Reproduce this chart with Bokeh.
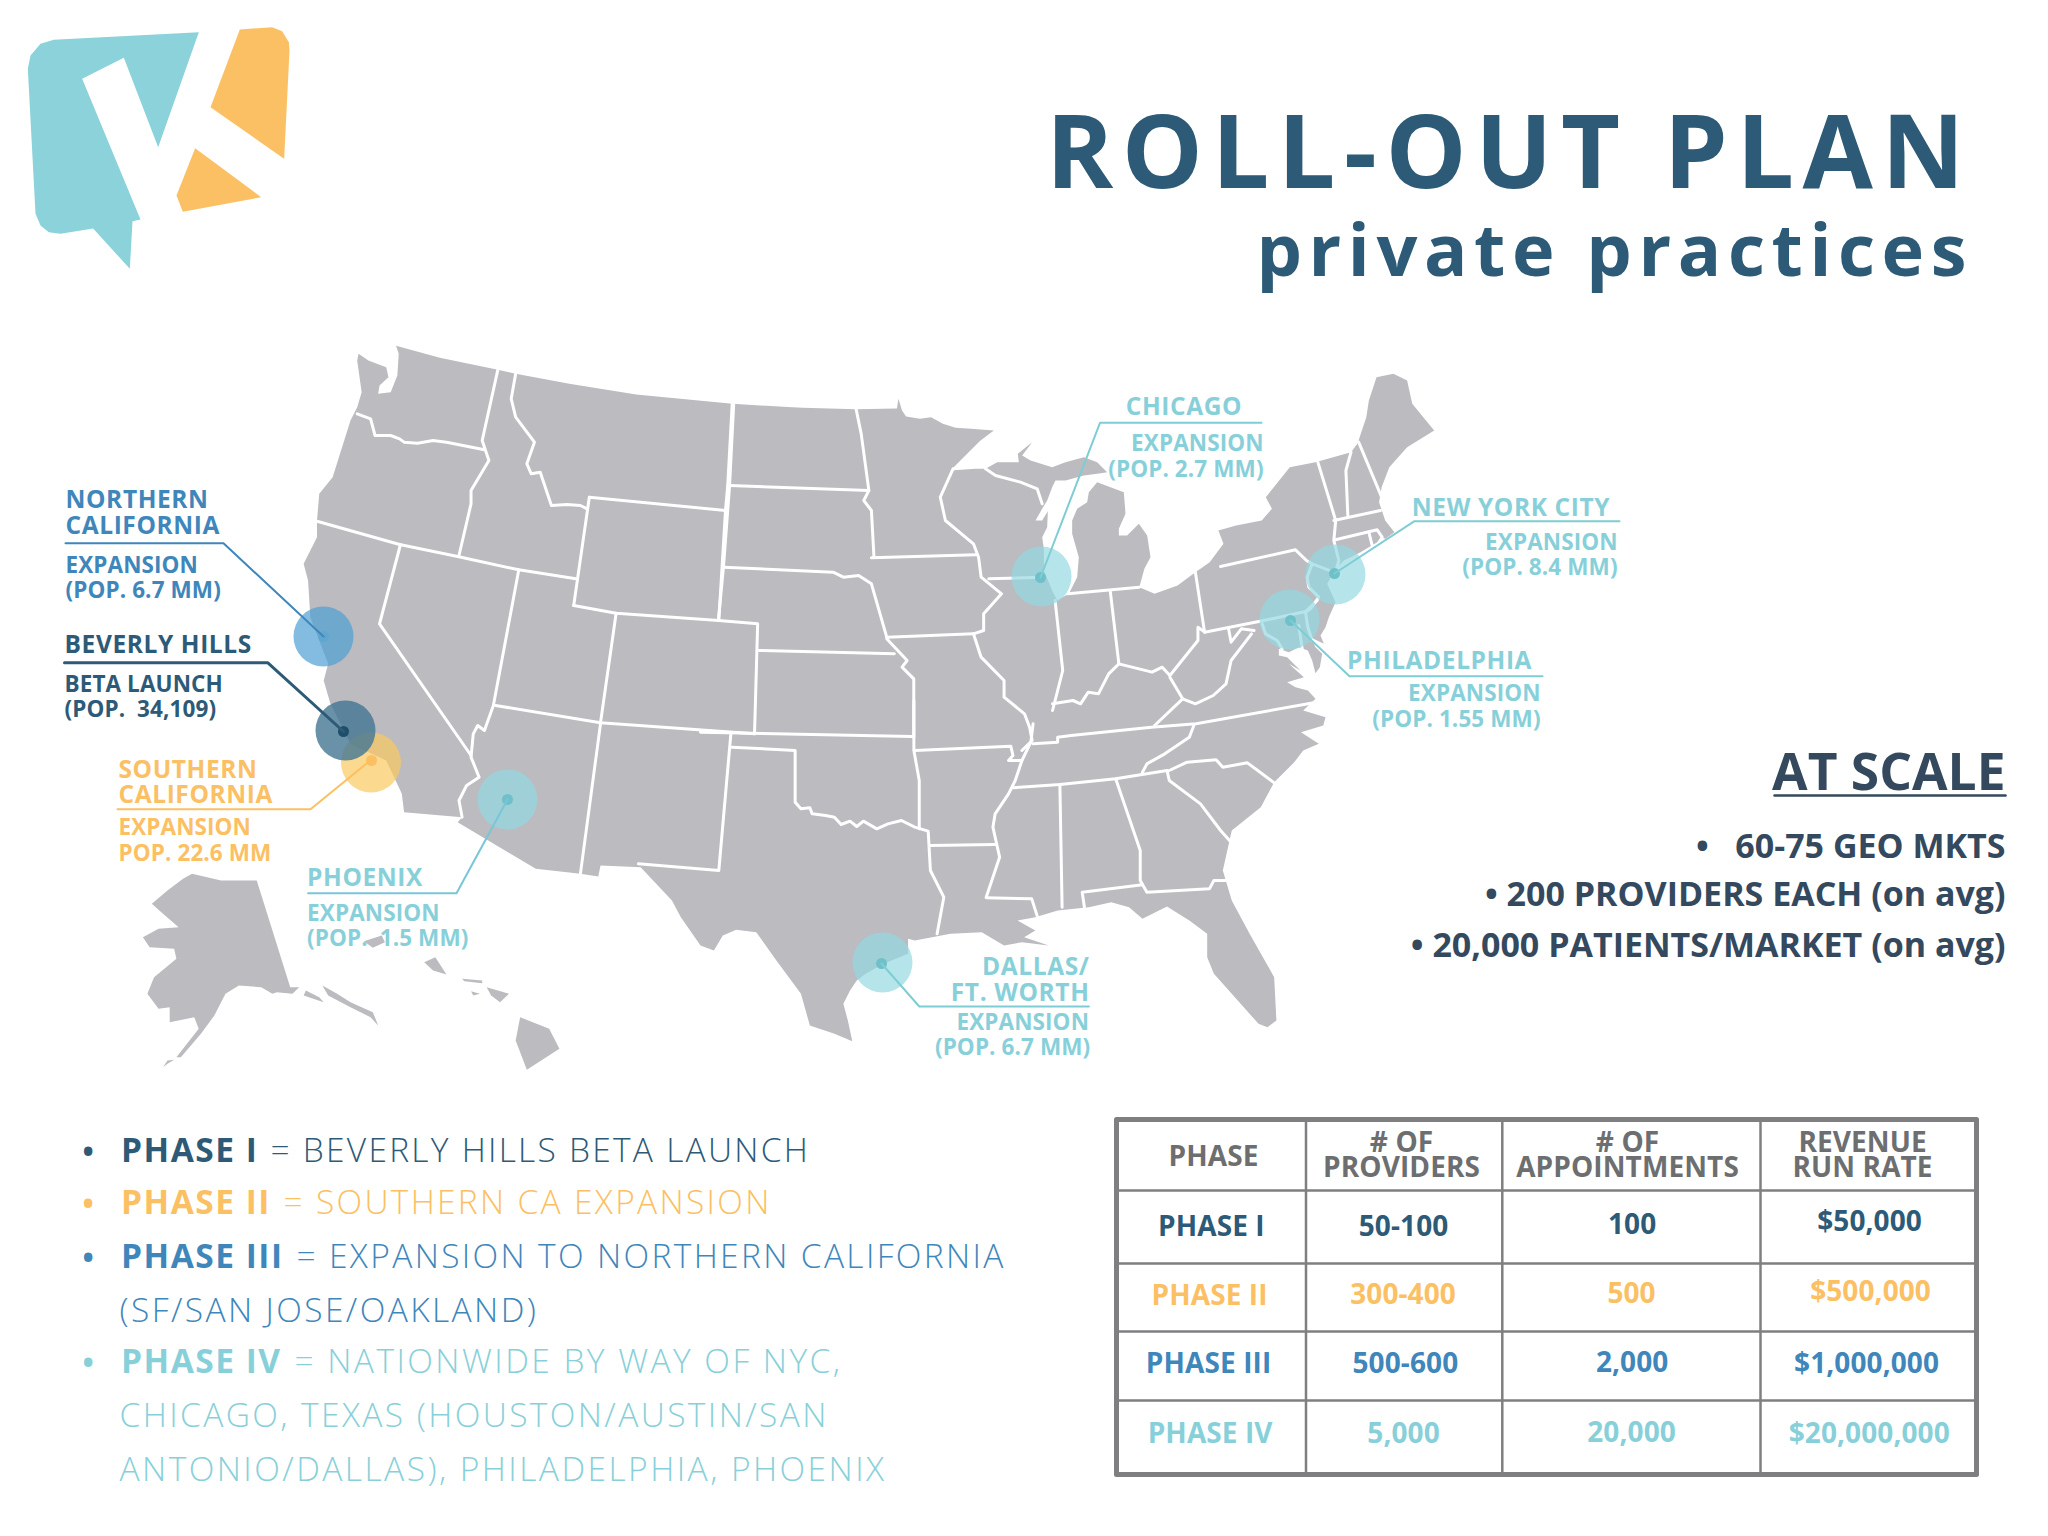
from bokeh.plotting import figure, curdoc
from bokeh.models import Range1d, CustomJS
from bokeh.core.properties import value
from bokeh.embed import file_html
from bokeh.resources import INLINE

# ---------- table data ----------
phases = ["PHASE I", "PHASE II", "PHASE III", "PHASE IV"]
providers = ["50-100", "300-400", "500-600", "5,000"]
appointments = ["100", "500", "2,000", "20,000"]
revenue = ["$50,000", "$500,000", "$1,000,000", "$20,000,000"]
phase_rest = ["= BEVERLY HILLS BETA LAUNCH", "= SOUTHERN CA EXPANSION",
              "= EXPANSION TO NORTHERN CALIFORNIA", "= NATIONWIDE BY WAY OF NYC,"]
at_scale = ["\u2022   60-75 GEO MKTS", "\u2022 200 PROVIDERS EACH (on avg)",
            "\u2022 20,000 PATIENTS/MARKET (on avg)"]

DARK, ORANGE, BLUE, TEAL = "#2d5a76", "#fbc063", "#3f86bb", "#88d0d9"
phase_colors = [DARK, ORANGE, BLUE, TEAL]
GRAY = "#bbbbc0"

# ---------- traced map shapes (each in the coordinates of its source crop) ----------
def z2(p): return [(100 + x / 2.24, 320 + y / 3) for x, y in p]
def z3(p): return [(700 + x / 1.96, 320 + y / 3) for x, y in p]
def z4(p): return [(100 + x / 2.24, 700 + y / 3) for x, y in p]
def z5(p): return [(700 + x / 2.24, 700 + y / 3) for x, y in p]
def z7(p): return [(x / 3, y / 3) for x, y in p]
def za(p): return [(940 + x / 3, 420 + y / 3) for x, y in p]
def zb(p): return [(1220 + x / 3, 480 + y / 3) for x, y in p]

outline = (
    z2([(662,76),(760,112),(890,148),(930,160),(1050,190),(1200,222),(1415,250),(1568,262)])
    + z3([(65,252),(200,262),(305,266),(385,264),(388,235),(395,270),(403,288),(430,295),(452,290),
          (475,310),(500,322),(530,325)])
    + za([(160,30),(120,60),(80,100),(30,150),(105,145),(135,145),(170,125),(235,125),(232,100),(275,65),
          (245,105),(270,120),(335,140),(375,125),(430,110),(470,125),(500,155),(470,160),(430,165),
          (375,180),(345,180),(335,200),(320,240),(305,265),(285,300),(305,300),(322,272),(320,320),
          (305,350),(310,385),(310,450),(335,510),(350,540),(385,520),(410,470),(415,410),(395,340),
          (395,300),(410,265),(440,245),(445,215),(470,185),(550,215),(555,280),(535,325),(535,345),
          (560,345),(595,310),(620,345),(630,410)])
    + z3([(870,745),(860,800),(890,820),(935,795),(970,755),(998,725),(1025,670),(1015,630),
          (1050,615),(1100,600),(1120,565),(1108,530),(1155,440),(1205,425),(1275,395),(1288,368),
          (1305,290),(1310,240),(1325,170),(1358,160),(1385,180),(1395,250),(1438,330),(1385,380),
          (1350,440),(1335,500),(1330,545),(1342,600),(1360,635)])
    + zb([(495,175),(480,170),(470,185),(420,215),(370,240),(345,265),(320,310),(345,365),(325,410),(315,440),
          (300,465),(310,490),(285,478),(270,470),(285,500),(305,520),(298,560),(285,578),(275,540),(262,510),
          (235,500),(205,515),(175,505),(175,525),(200,530),(240,570),(205,550),(250,590),(200,605),(225,620),
          (262,630),(285,655)])
    + z5([(1350,30),(1400,50),(1395,75),(1345,95),(1385,130),(1350,150),(1330,185),(1285,245),(1255,320),
          (1190,390),(1170,510),(1190,600),(1230,700),(1285,830),(1290,960),(1270,980),(1250,970),
          (1190,880),(1150,820),(1135,770),(1135,700),(1095,660),(1045,618),(990,655),(960,620),(920,605),
          (870,620),(800,630),(750,650),(710,660),(750,690),(725,710),(780,735),(720,725),(680,735),
          (630,695),(560,700),(480,720),(465,715),(465,760),(410,790),(370,820),(350,840),(335,870),
          (320,910),(330,960),(340,1022),(300,1000),(245,975),(225,880),(170,780),(125,695),(80,688),
          (50,705),(30,750),(0,735)])
    + z4([(1300,650),(1280,600),(1210,500),(1120,495),(1115,528),(1075,520),(975,505),(800,365),(810,350),(680,335)])
    + z2([(675,1420),(640,1320),(560,1270),(515,1150),(500,1080),(510,1030),(470,890),(465,780),(455,730),
          (485,650),(485,600),(490,520),(520,470),(560,300),(575,260),(585,215),(575,120),(578,100),
          (600,120),(640,140),(645,170),(625,195),(622,220),(650,215),(665,165),(668,100)])
)

borders = [
    z2([(575,280),(605,295),(615,345),(650,345),(670,355),(680,365),(710,368),(745,360),(775,365),(860,388)]),
    z2([(890,148),(855,360),(870,420),(830,510),(830,550),(803,705)]),
    z2([(487,603),(670,672),(800,708),(937,748),(1065,775)]),
    z2([(930,160),(920,235),(930,290),(972,365),(955,430),(965,460),(985,455),(1010,555),(1045,552),(1075,555),(1090,565)]),
    z2([(1095,530),(1060,855)]),
    z2([(1095,530),(1400,570)]),
    z2([(1415,250),(1405,495),(1400,570),(1385,900)]),
    z2([(1060,855),(1155,878),(1385,900),(1472,910),(1465,1240)]),
    z2([(937,748),(880,1155),(860,1230),(845,1215),(835,1240),(830,1310),(848,1370),(820,1395),(803,1440),(810,1490)]),
    z2([(885,1155),(1120,1207),(1465,1240)]),
    z2([(1155,878),(1120,1207)]),
    z4([(1120,70),(1075,520)]),
    z2([(672,672),(625,910),(830,1305)]),
    z4([(1412,100),(1385,510),(1205,490)]),
    z5([(70,140),(212,150),(212,305),(225,325),(245,322),(250,340),(280,345),(300,350),(315,372),(335,362),
        (350,378),(365,362),(395,385),(420,370),(450,360),(480,380),(510,392),(515,510),(545,590),(530,700)]),
    z5([(0,95),(475,108)]),
    z5([(478,0),(478,150),(490,240),(490,385)]),
    z5([(480,150),(695,137),(700,165),(690,180),(720,180)]),
    z5([(745,70),(740,125),(720,180),(705,240),(690,280),(660,340),(655,380),(670,470),(640,590)]),
    z5([(515,435),(660,432)]),
    z5([(640,592),(742,595),(755,650)]),
    z5([(700,262),(805,252),(930,235),(1045,210)]),
    z5([(805,252),(810,620)]),
    z5([(930,235),(985,450),(985,540),(1000,575),(1140,565),(1150,540),(1175,540)]),
    z5([(860,620),(855,575),(990,553)]),
    z5([(1045,210),(1050,240),(1120,310),(1165,390),(1185,420)]),
    z5([(1050,210),(1090,185),(1155,178),(1170,200),(1225,187),(1285,247)]),
    z5([(745,130),(800,125),(800,110),(830,105),(1010,80),(1110,70),(1380,5)]),
    z5([(1105,75),(1095,110),(1040,160),(1000,190),(990,215)]),
    z3([(890,1215),(945,1135),(920,1070)]),
    z3([(305,266),(315,340),(330,510),(320,540),(335,570),(340,710)]),
    z3([(57,495),(330,510)]),
    z3([(65,252),(57,495),(45,740),(35,900)]),
    z3([(45,740),(260,755),(280,770),(310,765),(335,790),(365,950)]),
    z3([(115,990),(380,1000)]),
    z3([(335,712),(540,703)]),
    z3([(495,445),(470,530),(480,600),(535,670),(545,710),(550,770),(590,820),(555,880),(555,930),(535,940)]),
    z3([(365,950),(535,940)]),
    z3([(365,955),(405,1020),(395,1040),(418,1075),(418,1250)]),
    z3([(535,940),(550,1010),(595,1080),(595,1130),(635,1180),(645,1220),(650,1260),(630,1290)]),
    za([(135,145),(165,165),(240,185),(290,205),(305,250)]),
    z3([(565,775),(670,770)]),
    z3([(695,840),(710,1050),(690,1170)]),
    z3([(690,1150),(730,1140),(745,1150),(760,1115),(780,1120),(800,1060),(820,1030),(885,1055),(905,1040),(920,1065),(975,960),(975,920),(988,935)]),
    z3([(803,810),(820,1030)]),
    z3([(720,820),(860,800)]),
    z3([(970,755),(988,935)]) + zb([(130,420),(255,393),(290,360)]),
    zb([(0,258),(225,208),(258,240),(275,250),(340,275)]),
    z3([(1210,425),(1245,600)]) + zb([(340,180),(355,240),(345,275)]),
    zb([(340,120),(480,90)]),
    zb([(345,178),(470,148),(485,170)]),
    zb([(445,155),(455,195)]),
    z3([(1275,395),(1265,450)]) + zb([(382,105)]),
    z3([(1290,365),(1335,530)]),
    zb([(275,250),(260,290),(265,320),(295,350),(270,385),(255,395),(262,440),(275,480)]),
    zb([(235,435),(245,505)]),
    zb([(125,430),(135,460),(170,480),(185,505)]),
    z3([(945,1135),(970,1150),(1005,1125),(1030,1090),(1040,1020),(1080,940)]),
    z3([(1035,925),(1040,965),(1060,925),(1085,930)]),
]

alaska = z4([(205,520),(270,540),(350,540),(425,860),(445,860),(430,880),(395,875),(385,880),(360,860),(310,855),
             (280,880),(255,945),(225,1000),(180,1070),(170,1070),(220,985),(210,950),(155,965),(155,920),(130,925),(105,880),
             (120,830),(170,775),(165,745),(110,740),(95,710),(130,685),(175,680),(140,640),(115,610),(150,570),(185,535)])
alaska_arc = z4([(497,855),(530,880),(560,905),(610,935),(622,975),(605,950),(560,920),(510,885)])
alaska_isl = z4([(460,870),(490,890),(500,905),(455,885)])
aleut = z4([(140,1100),(150,1080),(165,1078),(150,1090)])
hawaii = [
    z4([(940,950),(1005,985),(1028,1045),(955,1108),(930,1020)]),
    z4([(865,860),(915,880),(895,905),(875,885)]),
    z4([(810,835),(855,840),(855,848),(815,842)]),
    z4([(830,872),(850,880),(835,885)]),
    z4([(750,770),(775,822),(745,810),(725,785)]),
    z4([(590,722),(630,705),(637,725),(610,742)]),
]

logo_teal = z7([(595,95),(160,118),(120,130),(90,165),(82,205),(105,640),(120,675),(145,695),(180,700),(278,684),
                (388,805),(396,662),(420,657),(245,235),(370,172),(473,440)])
logo_or1 = z7([(718,87),(815,80),(845,92),(865,125),(867,150),(851,475),(630,320)])
logo_or2 = z7([(584,443),(782,590),(547,634),(528,585)])

# ---------- figure: data units are page pixels ----------
p = figure(width=2032, height=1520, x_range=Range1d(0, 2032), y_range=Range1d(1520, 0),
           output_backend="svg", toolbar_location=None, min_border=0, outline_line_color=None,
           background_fill_color="white", border_fill_color="white")
p.axis.visible = False
p.grid.visible = False

def poly(pts, color):
    p.patch([a for a, _ in pts], [b for _, b in pts], fill_color=color, line_color=None)

def line(pts, color, w):
    p.line([a for a, _ in pts], [b for _, b in pts], line_color=color, line_width=w,
           line_join="round", line_cap="round")

text_styles = []   # per text: string, anchor y, spacing, weight, alignment
def txt(x, y, s, color, size, align="left", style="bold", ls=0, weight=700):
    ya = y - 0.39 * size
    text_styles.append([s, ya, ls, weight, align])
    p.text([x], [ya], text=[s], text_color=color, text_font=value("Open Sans"),
           text_font_size=f"{size}px", text_font_style=style, text_align=align,
           text_baseline="alphabetic")

poly(logo_teal, "#8bd2da"); poly(logo_or1, ORANGE); poly(logo_or2, ORANGE)

txt(1964, 187.3, "ROLL-OUT PLAN", DARK, 102, "right", ls=8.6, weight=700)
txt(1966, 275.7, "private practices", DARK, 72, "right", ls=6.6, weight=700)

poly(outline, GRAY)
poly(alaska, GRAY); poly(alaska_arc, GRAY); poly(alaska_isl, GRAY); poly(aleut, GRAY)
for b in borders:
    line(b, "white", 3)

c_cx = [323, 370.5, 507, 1041, 1335, 1289, 882, 345]
c_cy = [636, 762, 799, 576, 574, 619, 962, 730]
c_col = ["#4f9fd3", "#fac960", "#94d9e1", "#94d9e1", "#94d9e1", "#94d9e1", "#94d9e1", "#447692"]
c_a = [.7, .7, .69, .69, .69, .69, .69, .8]
d_col = ["#5fa7cf", "#fbc063", "#6fc0c8", "#6fc0c8", "#6fc0c8", "#6fc0c8", "#6fc0c8", "#1f4f68"]
d_x = [323, 371, 507, 1040, 1334, 1290, 881, 343]
d_y = [636, 760, 799, 577, 573, 620, 963, 731]
for i in range(8):
    p.circle([c_cx[i]], [c_cy[i]], radius=30, fill_color=c_col[i], fill_alpha=c_a[i], line_color=None)
    p.circle([d_x[i]], [d_y[i]], radius=5.5, fill_color=d_col[i], line_color=None)

LT = "#7fcdd4"
line([(65, 542.7), (223, 542.7), (323, 636)], BLUE, 2)
line([(64, 662.3), (267.4, 662.3), (343, 731)], DARK, 3)
line([(117, 808.7), (310, 808.7), (371, 759)], ORANGE, 2)
line([(307.6, 892.7), (456, 892.7), (507, 799)], "#78c6d6", 2)
line([(1261, 422.3), (1099.5, 422.3), (1040, 577)], LT, 2)
line([(1619, 520.7), (1414, 520.7), (1334, 573)], LT, 2)
line([(1542, 675.7), (1349, 675.7), (1290, 620)], LT, 2)
line([(1088.4, 1006), (918.8, 1006), (881, 963)], LT, 2)

S1, S2 = 24.5, 22.5
L1, L2 = 0.6, 0.1
txt(65, 508, "NORTHERN", BLUE, S1, ls=L1); txt(65, 534, "CALIFORNIA", BLUE, S1, ls=L1)
txt(65, 572.7, "EXPANSION", BLUE, S2, ls=L2); txt(65, 597.7, "(POP. 6.7 MM)", BLUE, S2, ls=L2)
txt(64, 652.7, "BEVERLY HILLS", DARK, S1, ls=L1)
txt(64, 692, "BETA LAUNCH", DARK, S2, ls=L2); txt(64, 717, "(POP.  34,109)", DARK, S2, ls=L2)
txt(118, 777.3, "SOUTHERN", ORANGE, S1, ls=L1); txt(118, 802.7, "CALIFORNIA", ORANGE, S1, ls=L1)
txt(118, 835, "EXPANSION", ORANGE, S2, ls=L2); txt(118, 860.7, "POP. 22.6 MM", ORANGE, S2, ls=L2)
txt(306.6, 886, "PHOENIX", TEAL, S1, ls=L1)
txt(306.6, 920.7, "EXPANSION", TEAL, S2, ls=L2); txt(306.6, 946, "(POP.  1.5 MM)", TEAL, S2, ls=L2)
txt(1241, 415, "CHICAGO", TEAL, S1, "right", ls=L1)
txt(1263, 451, "EXPANSION", TEAL, S2, "right", ls=L2); txt(1263, 476.7, "(POP. 2.7 MM)", TEAL, S2, "right", ls=L2)
txt(1609, 515.7, "NEW YORK CITY", TEAL, S1, "right", ls=L1)
txt(1617, 550, "EXPANSION", TEAL, S2, "right", ls=L2); txt(1617, 575, "(POP. 8.4 MM)", TEAL, S2, "right", ls=L2)
txt(1531, 668.3, "PHILADELPHIA", TEAL, S1, "right", ls=L1)
txt(1540, 701, "EXPANSION", TEAL, S2, "right", ls=L2); txt(1540, 727, "(POP. 1.55 MM)", TEAL, S2, "right", ls=L2)
txt(1088.4, 975, "DALLAS/", TEAL, S1, "right", ls=L1); txt(1088.4, 1000.7, "FT. WORTH", TEAL, S1, "right", ls=L1)
txt(1088.4, 1029.3, "EXPANSION", TEAL, S2, "right", ls=L2); txt(1089.7, 1055, "(POP. 6.7 MM)", TEAL, S2, "right", ls=L2)

for h in hawaii:
    poly(h, GRAY)

NAVY = "#34495e"
txt(2005, 790, "AT SCALE", NAVY, 51.5, "right")
line([(1774, 795), (2005, 795)], NAVY, 2.5)
for s, y in zip(at_scale, [858, 906, 957]):
    txt(2005, y, s, NAVY, 34, "right")

rest_x = [270, 283, 296, 294]
rest_ls = [2.25, 2.3, 2.35, 2.45]
rows_y = [1162, 1214, 1268, 1373]
for i in range(4):
    txt(120.5, rows_y[i], phases[i], phase_colors[i], 33.5, ls=1.5, weight=700)
    txt(rest_x[i], rows_y[i], phase_rest[i], phase_colors[i], 33.5, style="normal", ls=rest_ls[i], weight=300)
    txt(82, rows_y[i], "\u2022", phase_colors[i], 30)
txt(119, 1322, "(SF/SAN JOSE/OAKLAND)", BLUE, 33.5, style="normal", ls=2.4, weight=300)
txt(119, 1427, "CHICAGO, TEXAS (HOUSTON/AUSTIN/SAN", TEAL, 33.5, style="normal", ls=2.4, weight=300)
txt(119, 1481, "ANTONIO/DALLAS), PHILADELPHIA, PHOENIX", TEAL, 33.5, style="normal", ls=2.45, weight=300)

TG = "#7f7f81"
T_X0, T_X1, T_Y0, T_Y1 = 1116, 1976, 1119, 1474
col_lines = [1305.5, 1501.8, 1760]
row_lines = [1190, 1263, 1331, 1400]
for x in col_lines:
    line([(x, T_Y0), (x, T_Y1)], TG, 2.5)
for y in row_lines:
    line([(T_X0, y), (T_X1, y)], TG, 2.5)
line([(T_X0, T_Y0), (T_X1, T_Y0), (T_X1, T_Y1), (T_X0, T_Y1), (T_X0, T_Y0)], TG, 5)

HG = "#6d6e70"
TS = 28
txt(1213, 1165, "PHASE", HG, TS, "center", ls=0.1)
txt(1401, 1151.7, "# OF", HG, TS, "center", ls=0.1); txt(1401, 1176.7, "PROVIDERS", HG, TS, "center", ls=0.1)
txt(1627, 1151.7, "# OF", HG, TS, "center", ls=0.1); txt(1627, 1176.7, "APPOINTMENTS", HG, TS, "center", ls=0.1)
txt(1862, 1151.7, "REVENUE", HG, TS, "center", ls=0.1); txt(1862, 1176.7, "RUN RATE", HG, TS, "center", ls=0.1)

col_phase = [(1210.8, 1235), (1209, 1304), (1208, 1372.7), (1209.6, 1442.7)]
col_prov = [(1403, 1235.7), (1402.5, 1304), (1404.8, 1373), (1403, 1443)]
col_app = [(1631.6, 1234.3), (1631, 1303), (1631.6, 1371.7), (1631, 1441.7)]
col_rev = [(1869, 1230.7), (1870, 1300), (1866, 1372.7), (1868.7, 1442.7)]
for i in range(4):
    for vals, pos in ((phases, col_phase), (providers, col_prov), (appointments, col_app), (revenue, col_rev)):
        txt(pos[i][0], pos[i][1], vals[i], phase_colors[i], TS, "center", ls=0.1)

apply_styles = CustomJS(args=dict(styles=text_styles), code="""
function walk(root, out) {
  root.querySelectorAll('*').forEach((e) => {
    if (e.tagName === 'text') out.push(e);
    if (e.shadowRoot) walk(e.shadowRoot, out);
  });
}
function run() {
  const out = [];
  walk(document, out);
  out.forEach((e) => {
    if (e.dataset.styled) return;
    const r = e.getBoundingClientRect();
    const svg = e.ownerSVGElement.getBoundingClientRect();
    const cy = r.top + r.height / 2 - svg.top;
    let st = null, best = 1e9;
    for (const s of styles) {
      if (s[0] !== e.textContent) continue;
      const d = Math.abs(s[1] - cy);
      if (d < best) { best = d; st = s; }
    }
    if (!st) return;
    e.dataset.styled = '1';
    e.style.whiteSpace = 'pre';
    const l0 = e.getComputedTextLength();
    e.style.letterSpacing = st[2] + 'px';
    e.style.fontWeight = st[3];
    const l1 = e.getComputedTextLength();
    let dx = 0;
    if (st[4] === 'right') dx = l0 - l1 + st[2];
    if (st[4] === 'center') dx = (l0 - l1 + st[2]) / 2;
    e.setAttribute('x', parseFloat(e.getAttribute('x') || '0') + dx);
  });
}
run(); setTimeout(run, 100); setTimeout(run, 500);
""")
doc = curdoc()
doc.add_root(p)
doc.js_on_event("document_ready", apply_styles)

open("out.html", "w").write(file_html(p, INLINE))
